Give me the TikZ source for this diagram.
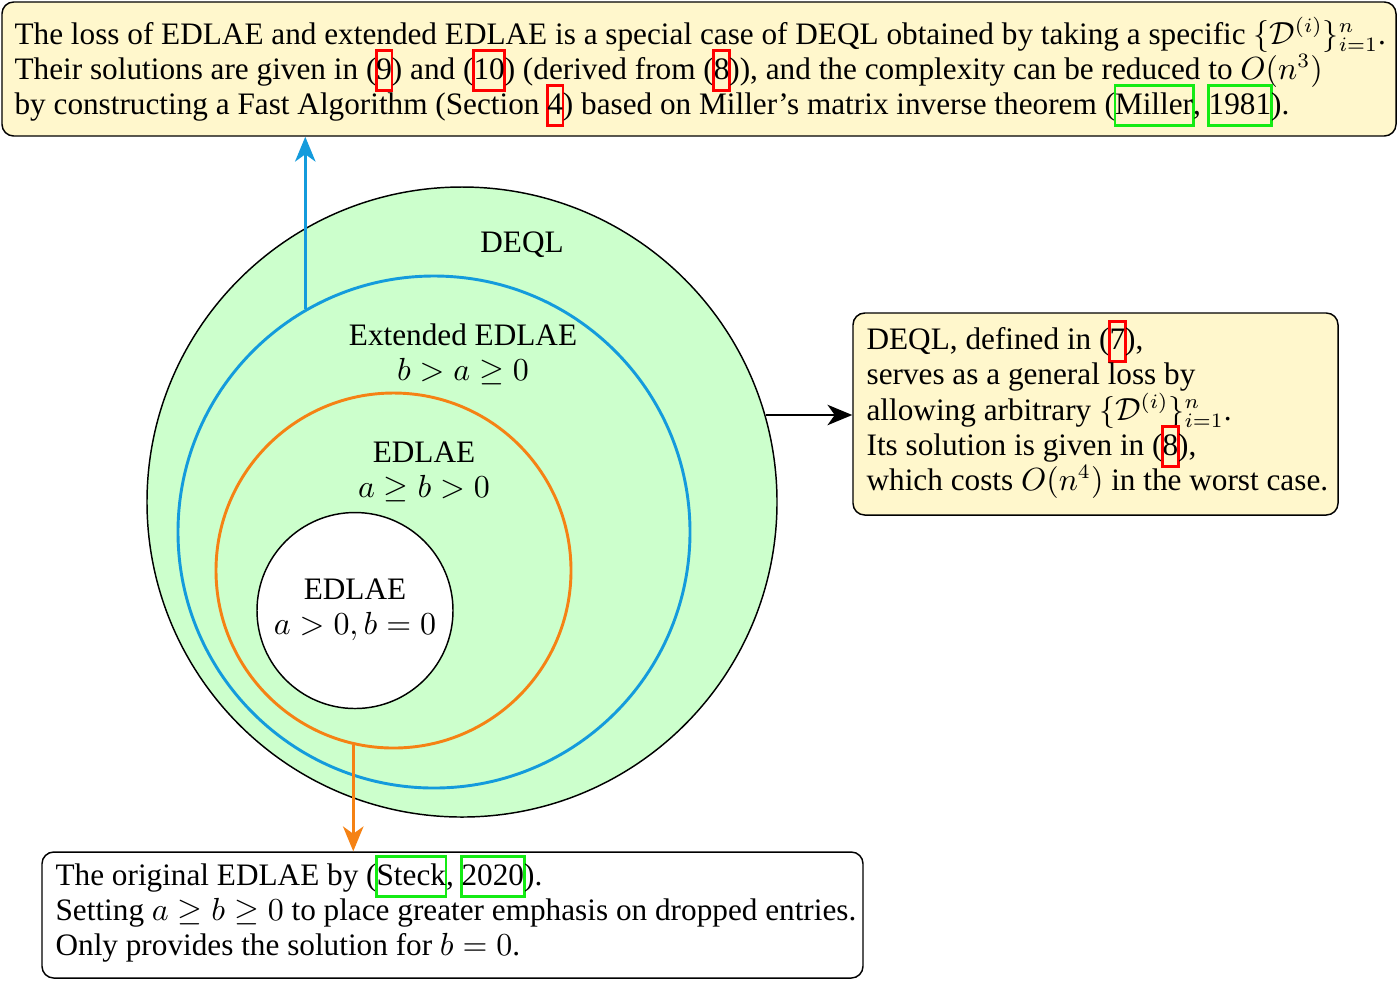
\documentclass[tikz,border=0pt]{standalone}
\usepackage[no-math]{fontspec}
\setmainfont{Liberation Serif}
\usetikzlibrary{arrows.meta,fit}
\definecolor{boxyellow}{RGB}{255,247,204}
\definecolor{lightgreen}{RGB}{204,255,204}
\definecolor{myblue}{RGB}{20,155,220}
\definecolor{myorange}{RGB}{245,130,20}
\definecolor{linkred}{RGB}{255,0,0}
\definecolor{linkgreen}{RGB}{20,235,20}
\newcommand\lnk[2]{\leavevmode\setbox0=\hbox{#2}%
\rlap{\smash{\color{#1}\kern-0.5pt\vrule width 1pt height 10.3pt depth 4.3pt\kern-0.5pt
\rlap{\vrule width \wd0 height 10.3pt depth -9.3pt}%
\rlap{\vrule width \wd0 height -3.3pt depth 4.3pt}%
\kern\wd0\kern-0.5pt\vrule width 1pt height 10.3pt depth 4.3pt}}%
\box0}
\newcommand\rl[1]{\lnk{linkred}{#1}}
\newcommand\gl[1]{\lnk{linkgreen}{#1}}
\begin{document}
\begin{tikzpicture}[x=0.3425pt,y=-0.3425pt,
  every node/.style={font=\fontsize{10.7}{12}\selectfont},
  infobox/.style={draw=black,line width=0.5pt,rounded corners=4pt,inner sep=0pt},
  txt/.style={align=left,inner sep=0pt,anchor=west},
  lbl/.style={align=center,inner sep=0pt},
  setc/.style={circle,inner sep=0pt},
  arr/.style={-{Stealth[length=8.5pt,width=7pt,inset=2.5pt]}}
]
\useasboundingbox (0,0) rectangle (1398,981);
% circles
\node[setc,draw=black,line width=0.5pt,fill=lightgreen,minimum size={630*0.3425pt}] (deql) at (462,502) {};
\node[setc,draw=myblue,line width=1pt,minimum size={512*0.3425pt}] (ext) at (434,532) {};
\node[setc,draw=myorange,line width=1pt,minimum size={355*0.3425pt}] (edo) at (393.5,570.5) {};
\node[setc,draw=black,line width=0.5pt,fill=white,minimum size={196*0.3425pt}] (edw) at (355,610.5) {};
% labels
\node[lbl] (ldeql) at (522,245) {DEQL};
\node[lbl] (lext) at (463,354) {Extended EDLAE\\$b>a\geq 0$};
\node[lbl] (ledo) at (424,472) {EDLAE\\$a\geq b>0$};
\node[lbl] (ledw) at (355,610) {EDLAE\\$a>0,b=0$};
% boxes
\node[infobox,fill=boxyellow,fit={(2,2) (1396,136)}] (top) {};
\node[txt] (toptxt) at (14,69) {The loss of EDLAE and extended EDLAE is a special case of DEQL obtained by taking a specific $\{\mathcal{D}^{(i)}\}_{i=1}^{n}$.\\
Their solutions are given in (\rl{9}) and (\rl{10}) (derived from (\rl{8})), and the complexity can be reduced to $O(n^3)$\\
by constructing a Fast Algorithm (Section \rl{4}) based on Miller's matrix inverse theorem (\gl{Miller}, \gl{1981}).};
\node[infobox,fill=boxyellow,fit={(853,313) (1338,515)}] (rbox) {};
\node[txt] (rtxt) at (866,413) {DEQL, defined in (\rl{7}),\\
serves as a general loss by\\
allowing arbitrary $\{\mathcal{D}^{(i)}\}_{i=1}^{n}$.\\
Its solution is given in (\rl{8}),\\
which costs $O(n^4)$ in the worst case.};
\node[infobox,fill=white,fit={(42,852) (863,978)}] (bbox) {};
\node[txt] (btxt) at (55,913) {The original EDLAE by (\gl{Steck}, \gl{2020}).\\
Setting $a\geq b\geq 0$ to place greater emphasis on dropped entries.\\
Only provides the solution for $b=0$.};
% arrows
\draw[arr,myblue,line width=1pt] (ext.120) -- (ext.120 |- top.south);
\draw[arr,black,line width=0.8pt] (deql.16.6) -- (deql.16.6 -| rbox.west);
\draw[arr,myorange,line width=1pt] (edo.257.2) -- (edo.257.2 |- bbox.north);
\end{tikzpicture}
\end{document}
